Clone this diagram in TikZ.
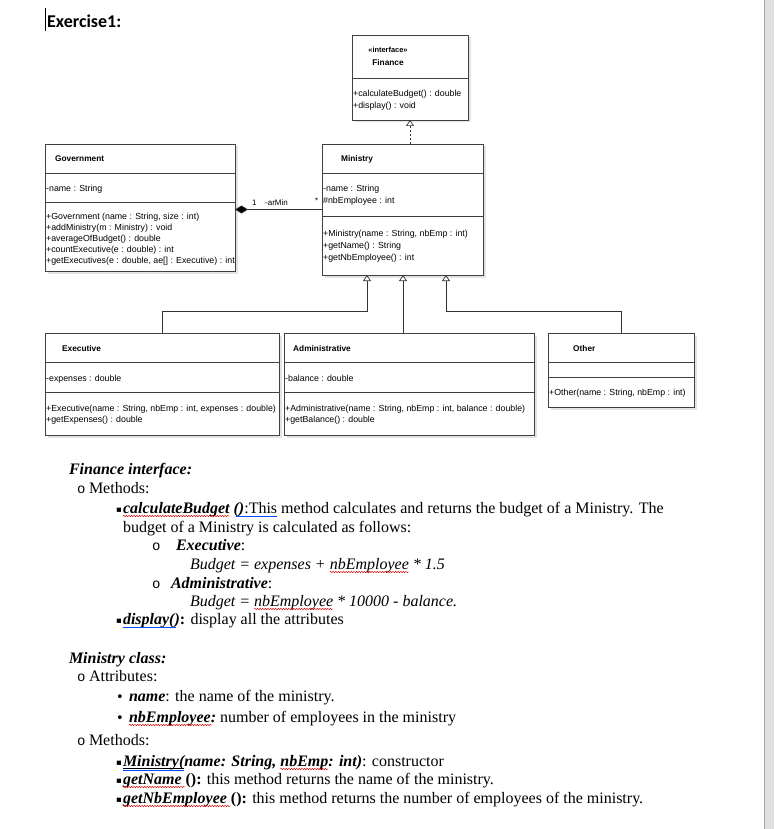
\documentclass[tikz,border=0pt]{standalone}
\usepackage{fontspec}
\setmainfont{Liberation Serif}
\newfontfamily\umlfont{Liberation Sans}
\newfontfamily\titlefont{Carlito}
\newfontfamily\bulletmono{Liberation Mono}
\newfontfamily\symfont{DejaVu Sans}
\usetikzlibrary{arrows.meta,shadows,decorations.pathmorphing,calc}
\begin{document}
\begin{tikzpicture}[x=1pt,y=-1pt,
  umlbox/.style={draw=black!75, line width=0.7pt, fill=white, anchor=north west, inner sep=0pt, outer sep=0pt,
     drop shadow={shadow xshift=2.5pt, shadow yshift=-2.5pt, opacity=0.22}},
  divider/.style={draw=black!75, line width=0.7pt},
  cname/.style={anchor=base west, inner sep=0pt, font=\umlfont\bfseries\fontsize{8.3}{10}\selectfont},
  stereo/.style={anchor=base, inner sep=0pt, font=\umlfont\bfseries\fontsize{7.4}{9}\selectfont},
  member/.style={anchor=base west, inner sep=0pt, font=\umlfont\fontsize{8.8}{10}\selectfont},
  rolelabel/.style={anchor=base west, inner sep=0pt, font=\umlfont\fontsize{8}{10}\selectfont},
  conn/.style={draw=black!80, line width=0.7pt},
  gen/.style={conn, -{Triangle[open, length=6pt, width=8pt]}},
  real/.style={conn, dash pattern=on 2pt off 2pt, -{Triangle[open, length=6pt, width=8pt]}},
  comp/.style={conn, {Diamond[length=13pt, width=8pt, fill=black]}-},
  txt/.style={anchor=base west, inner sep=0pt, outer sep=0pt, font=\fontsize{16}{19}\selectfont},
  bi/.style={txt, font=\fontsize{16}{19}\selectfont\bfseries\itshape},
  it/.style={txt, font=\fontsize{16}{19}\selectfont\itshape},
  obullet/.style={anchor=base west, inner sep=0pt, font=\bulletmono\fontsize{14}{19}\selectfont},
  sqbullet/.style={anchor=base west, inner sep=0pt, font=\symfont\fontsize{8.5}{19}\selectfont},
  dotbullet/.style={anchor=base west, inner sep=0pt, font=\symfont\fontsize{13}{19}\selectfont},
  squig/.style={draw=red!85!black, line width=0.45pt, decorate, decoration={snake, amplitude=0.7pt, segment length=2.6pt}},
  gram/.style={draw=blue!70!cyan, line width=0.8pt},
]
\useasboundingbox (0,0) rectangle (774,829);
\fill[white] (0,0) rectangle (774,829);
% page edge
\fill[black!12] (764,0) rectangle (774,829);
\draw[black!35, line width=0.6pt] (764,0) -- (764,829);

% title
\draw[line width=0.8pt] (45,8) -- (45,31);
\node[anchor=base west, inner sep=0pt, font=\titlefont\bfseries\fontsize{18}{20}\selectfont] (title) at (47,28) {Exercise1:};

% ---------- Finance ----------
\node[umlbox, minimum width=116pt, minimum height=85pt] (fin) at (352,35) {};
\draw[divider] (352,78) -- (468,78);
\node[stereo] (finst) at (388,53) {«interface»};
\node[stereo, font=\umlfont\bfseries\fontsize{8.3}{10}\selectfont] (finnm) at (388,66) {Finance};
\node[member] (fm1) at (353,97) {+calculateBudget() : double};
\node[member] (fm2) at (353,109) {+display() : void};

% ---------- Government ----------
\node[umlbox, minimum width=190pt, minimum height=127pt] (gov) at (45,144) {};
\draw[divider] (45,173) -- (235,173);
\draw[divider] (45,202) -- (235,202);
\node[cname] (govnm) at (55,161) {Government};
\node[member] (ga1) at (46,191) {-name : String};
\node[member] (gm1) at (46,219) {+Government (name : String, size : int)};
\node[member] (gm2) at (46,230) {+addMinistry(m : Ministry) : void};
\node[member] (gm3) at (46,241) {+averageOfBudget() : double};
\node[member] (gm4) at (46,252) {+countExecutive(e : double) : int};
\node[member] (gm5) at (46,263) {+getExecutives(e : double, ae[] : Executive) : int};

% ---------- Ministry ----------
\node[umlbox, minimum width=161pt, minimum height=131pt] (min) at (322,144) {};
\draw[divider] (322,173) -- (483,173);
\draw[divider] (322,216) -- (483,216);
\node[cname] (minnm) at (341,162) {Ministry};
\node[member] (ma1) at (323,191) {-name : String};
\node[member] (ma2) at (323,203) {\#nbEmployee : int};
\node[member] (mm1) at (323,236) {+Ministry(name : String, nbEmp : int)};
\node[member] (mm2) at (323,248) {+getName() : String};
\node[member] (mm3) at (323,260) {+getNbEmployee() : int};

% ---------- Executive ----------
\node[umlbox, minimum width=234pt, minimum height=102pt] (exe) at (45,333) {};
\draw[divider] (45,362) -- (279,362);
\draw[divider] (45,392) -- (279,392);
\node[cname] (exenm) at (62,351) {Executive};
\node[member] (ea1) at (46,381) {-expenses : double};
\node[member] (em1) at (46,411) {+Executive(name : String, nbEmp : int, expenses : double)};
\node[member] (em2) at (46,422) {+getExpenses() : double};

% ---------- Administrative ----------
\node[umlbox, minimum width=250pt, minimum height=102pt] (adm) at (284,333) {};
\draw[divider] (284,362) -- (534,362);
\draw[divider] (284,392) -- (534,392);
\node[cname] (admnm) at (293,351) {Administrative};
\node[member] (aa1) at (285,381) {-balance : double};
\node[member] (am1) at (285,411) {+Administrative(name : String, nbEmp : int, balance : double)};
\node[member] (am2) at (285,422) {+getBalance() : double};

% ---------- Other ----------
\node[umlbox, minimum width=146pt, minimum height=74pt] (oth) at (548,333) {};
\draw[divider] (548,362) -- (694,362);
\draw[divider] (548,377) -- (694,377);
\node[cname] (othnm) at (573,351) {Other};
\node[member] (om1) at (549,395) {+Other(name : String, nbEmp : int)};

% ---------- connectors ----------
\draw[real] (fin.south |- min.north) -- (fin.south);
\draw[comp] (gov.east |- min.west) -- (min.west);
\node[rolelabel] (mult1) at (252,205) {1};
\node[rolelabel] (role) at (265,205) {-arMin};
\node[rolelabel] (multn) at (315,204) {*};
\draw[gen] (exe.north) |- ($(min.south west)+(45,36)$) -- ($(min.south west)+(45,0)$);
\draw[gen] ($(adm.north west)+(119,0)$) -- ($(min.south west)+(81,0)$);
\draw[gen] (oth.north) |- ($(min.south west)+(124,36)$) -- ($(min.south west)+(124,0)$);

% ---------- text ----------
\node[bi] (h1) at (69,474) {Finance interface:};
\node[obullet] (b1) at (77,493) {o};
\node[txt] (l1) at (89,493) {Methods:};

\node[sqbullet] (b2) at (116,512) {▪};
\node[bi] (c1) at (123,513) {calculateBudget};
\node[txt] (c2) at (c1.base east) {\textbf{\textit{\ ()}}:This};
\node[txt] (c3) at (c2.base east) {\ method calculates and returns the budget of a Ministry. The};
\draw[squig] ($(c1.base west)+(0,3)$) -- ($(c1.base east)+(0,3)$);
\draw[gram] ($(c2.base west)+(6,3)$) -- ($(c2.base east)+(0,3)$);
\node[txt] (c4) at (123,532) {budget of a Ministry is calculated as follows:};

\node[obullet] (b3) at (152,550) {o};
\node[txt] (e1) at (176,550) {\textbf{\textit{Executive}}:};
\node[it] (e2) at (190,569) {Budget = expenses +\ \mbox{}};
\node[it] (e3) at (e2.base east) {nbEmployee};
\node[it] (e4) at (e3.base east) {\ * 1.5};
\draw[squig] ($(e3.base west)+(0,3)$) -- ($(e3.base east)+(0,3)$);

\node[obullet] (b4) at (152,588) {o};
\node[txt] (a1) at (171,588) {\textbf{\textit{Administrative}}:};
\node[it] (a2) at (190,606) {Budget =\ \mbox{}};
\node[it] (a3) at (a2.base east) {nbEmployee};
\node[it] (a4) at (a3.base east) {\ * 10000 - balance.};
\draw[squig] ($(a3.base west)+(0,3)$) -- ($(a3.base east)+(0,3)$);

\node[sqbullet] (b5) at (116,623) {▪};
\node[bi] (d1) at (123,624) {display()};
\node[txt] (d2) at (d1.base east) {\textbf{:} display all the attributes};
\draw[gram] ($(d1.base west)+(0,3)$) -- ($(d1.base east)+(-4,3)$);

\node[bi] (h2) at (69,663) {Ministry class:};
\node[obullet] (b6) at (77,681) {o};
\node[txt] (l2) at (89,681) {Attributes:};
\node[dotbullet] (b7) at (116,701) {•};
\node[bi] (n1) at (129,701) {name};
\node[txt] (n2) at (n1.base east) {: the name of the ministry.};
\node[dotbullet] (b8) at (116,722) {•};
\node[bi] (n3) at (129,722) {nbEmployee:};
\node[txt] (n4) at (n3.base east) {\ number of employees in the ministry};
\draw[squig] ($(n3.base west)+(0,3)$) -- ($(n3.base east)+(-4,3)$);

\node[obullet] (b9) at (77,745) {o};
\node[txt] (l3) at (89,745) {Methods:};
\node[sqbullet] (b10) at (116,765) {▪};
\node[bi] (m1) at (123,766) {Ministry(};
\node[bi] (m2) at (m1.base east) {name: String,\ \mbox{}};
\node[bi] (m3) at (m2.base east) {nbEmp};
\node[bi] (m4) at (m3.base east) {: int)};
\node[txt] (m5) at (m4.base east) {: constructor};
\draw[black, line width=0.6pt] ($(m1.base west)+(0,2)$) -- ($(m1.base east)+(0,2)$);
\draw[gram] ($(m1.base west)+(0,4)$) -- ($(m1.base east)+(0,4)$);
\draw[squig] ($(m3.base west)+(0,3)$) -- ($(m3.base east)+(0,3)$);

\node[sqbullet] (b11) at (116,783) {▪};
\node[bi] (g1) at (123,784) {getName};
\node[txt] (g2) at (g1.base east) {\textbf{\ ():} this method returns the name of the ministry.};
\draw[squig] ($(g1.base west)+(0,3)$) -- ($(g1.base east)+(4,3)$);

\node[sqbullet] (b12) at (116,802) {▪};
\node[bi] (k1) at (123,803) {getNbEmployee};
\node[txt] (k2) at (k1.base east) {\textbf{\ ():} this method returns the number of employees of the ministry.};
\draw[squig] ($(k1.base west)+(0,3)$) -- ($(k1.base east)+(4,3)$);
\end{tikzpicture}
\end{document}
